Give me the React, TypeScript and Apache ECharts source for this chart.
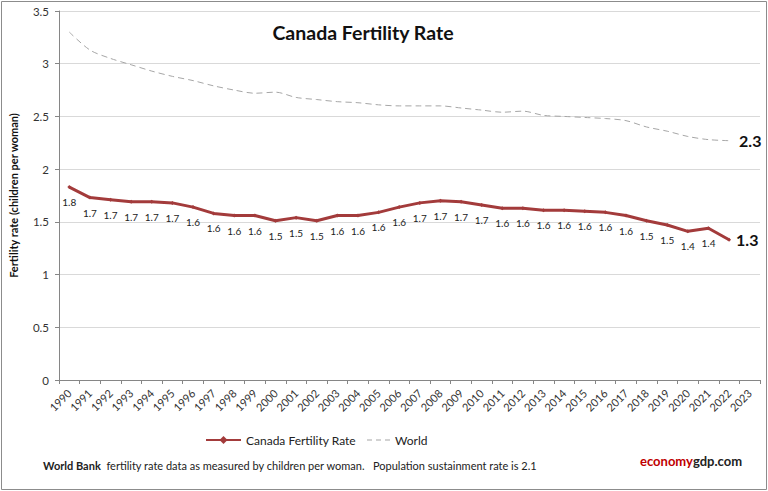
import React, { useEffect, useRef } from "react";
import * as echarts from "echarts";

// Years on the category axis (2023 left empty at the end of the axis)
const years = [
  "1990", "1991", "1992", "1993", "1994", "1995", "1996", "1997", "1998", "1999",
  "2000", "2001", "2002", "2003", "2004", "2005", "2006", "2007", "2008", "2009",
  "2010", "2011", "2012", "2013", "2014", "2015", "2016", "2017", "2018", "2019",
  "2020", "2021", "2022", "2023",
];

// Births per woman, Canada
const canadaRate = [
  1.83, 1.73, 1.71, 1.69, 1.69, 1.68, 1.64, 1.58, 1.56, 1.56,
  1.51, 1.54, 1.51, 1.56, 1.56, 1.59, 1.64, 1.68, 1.70, 1.69,
  1.66, 1.63, 1.63, 1.61, 1.61, 1.60, 1.59, 1.56, 1.51, 1.47,
  1.41, 1.44, 1.33,
];

// Births per woman, World
const worldRate = [
  3.30, 3.13, 3.05, 2.99, 2.93, 2.88, 2.84, 2.79, 2.75, 2.72,
  2.73, 2.68, 2.66, 2.64, 2.63, 2.61, 2.60, 2.60, 2.60, 2.58,
  2.56, 2.54, 2.55, 2.51, 2.50, 2.49, 2.48, 2.46, 2.40, 2.36,
  2.31, 2.28, 2.27,
];

const FONT = "Lato, 'Open Sans', sans-serif";
const CANADA_COLOR = "#a33b3b";
const WORLD_COLOR = "#a6a6a6";

// Three short dashes used as the World legend key
const DASH_ICON = "path://M0,4h5v1.2H0zM9,4h5v1.2H9zM18,4h5v1.2H18z";

const oneDecimal = (p: any) => Number(p.value).toFixed(1);

const bigEndLabel = (distance: number) => ({
  show: true,
  position: "right",
  distance,
  fontSize: 16,
  fontWeight: "bold",
  color: "#111",
  fontFamily: FONT,
  formatter: oneDecimal,
});

export default function App() {
  const ref = useRef<HTMLDivElement>(null);

  useEffect(() => {
    if (!ref.current) return;
    const chart = echarts.init(ref.current, null, { renderer: "svg" });

    const lastCanada = canadaRate.length - 1;
    const lastWorld = worldRate.length - 1;

    const canadaData = canadaRate.map((v, i) =>
      i === lastCanada ? { value: v, label: bigEndLabel(5) } : v
    );

    const worldData = worldRate.map((v, i) =>
      i === lastWorld ? { value: v, label: bigEndLabel(10) } : v
    );

    chart.setOption({
      animation: false,
      backgroundColor: "#ffffff",
      textStyle: { fontFamily: FONT },
      title: {
        text: "Canada Fertility Rate",
        left: 358,
        top: 17,
        textAlign: "center",
        textStyle: { fontSize: 19.5, fontWeight: "bold", color: "#111", fontFamily: FONT },
      },
      grid: { left: 55, right: 8, top: 11, bottom: 111, containLabel: false },
      legend: [
        {
          left: 200,
          top: 429,
          itemWidth: 35,
          itemHeight: 10,
          textStyle: { fontSize: 12, color: "#222", fontFamily: FONT },
          data: ["Canada Fertility Rate"],
        },
        {
          left: 362,
          top: 429,
          itemWidth: 23,
          itemHeight: 10,
          textStyle: { fontSize: 12, color: "#222", fontFamily: FONT },
          data: [{ name: "World", icon: DASH_ICON, itemStyle: { color: WORLD_COLOR } }],
        },
      ],
      xAxis: {
        type: "category",
        data: years,
        boundaryGap: true,
        axisLine: { lineStyle: { color: "#868686", width: 1 } },
        axisTick: { show: true, length: 4, interval: 0, lineStyle: { color: "#868686" } },
        axisLabel: {
          interval: 0,
          rotate: 45,
          fontSize: 11,
          color: "#333",
          margin: 11,
          fontFamily: FONT,
        },
      },
      yAxis: {
        type: "value",
        min: 0,
        max: 3.5,
        interval: 0.5,
        name: "Fertility rate (children per woman)",
        nameLocation: "middle",
        nameGap: 40,
        nameRotate: 90,
        nameTextStyle: { fontSize: 11, fontWeight: "bold", color: "#111", fontFamily: FONT },
        axisLine: { show: true, lineStyle: { color: "#868686", width: 1 } },
        axisTick: { show: true, length: 4, lineStyle: { color: "#868686" } },
        axisLabel: { fontSize: 11.5, color: "#333", margin: 10, fontFamily: FONT },
        splitLine: { lineStyle: { color: "#d9d9d9", width: 1 } },
      },
      series: [
        {
          name: "Canada Fertility Rate",
          type: "line",
          data: canadaData,
          symbol: "diamond",
          symbolSize: 4,
          showSymbol: true,
          itemStyle: { color: CANADA_COLOR },
          lineStyle: { color: CANADA_COLOR, width: 3 },
          label: {
            show: true,
            position: "bottom",
            distance: 8,
            fontSize: 10,
            color: "#222",
            fontFamily: FONT,
            formatter: oneDecimal,
          },
          z: 3,
        },
        {
          name: "World",
          type: "line",
          data: worldData,
          smooth: 0.3,
          symbol: "circle",
          symbolSize: 0,
          showSymbol: true,
          itemStyle: { color: WORLD_COLOR },
          lineStyle: { color: WORLD_COLOR, width: 1, type: [6, 4] },
          label: { show: false },
          z: 2,
        },
      ],
      graphic: [
        {
          type: "rect",
          shape: { x: 1.5, y: 1.5, width: 765, height: 488 },
          style: { fill: "none", stroke: "#8c8c8c", lineWidth: 1 },
          silent: true,
        },
        {
          type: "text",
          left: 43,
          top: 460,
          style: {
            text: "{b|World Bank}  fertility rate data as measured by children per woman.   Population sustainment rate is 2.1",
            fontSize: 11,
            fill: "#222",
            fontFamily: FONT,
            rich: {
              b: { fontWeight: "bold", fontSize: 11, fill: "#222", fontFamily: FONT },
            },
          },
        },
        {
          type: "text",
          left: 640,
          top: 454,
          style: {
            text: "{r|economy}{k|gdp.com}",
            rich: {
              r: { fontWeight: "bold", fontSize: 13, fill: "#c00000", fontFamily: FONT },
              k: { fontWeight: "bold", fontSize: 13, fill: "#222", fontFamily: FONT },
            },
          },
        },
      ],
    });

    return () => chart.dispose();
  }, []);

  return (
    <div
      ref={ref}
      style={{ position: "absolute", left: 0, top: 0, width: 768, height: 491 }}
    />
  );
}
